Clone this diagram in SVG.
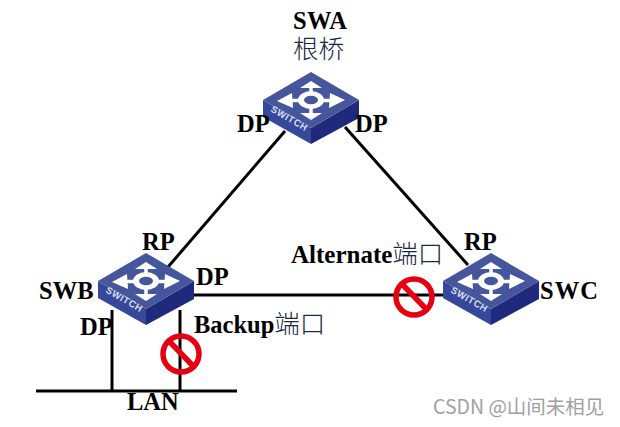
<svg xmlns="http://www.w3.org/2000/svg" width="620" height="427" viewBox="0 0 620 427">
<style>
.l{font:bold 24.5px "Liberation Serif","Noto Sans CJK SC",serif;fill:#000}
.c{font:300 25.5px "Noto Sans CJK SC",serif;fill:#1a2a44}
.w{fill:none;stroke:#000;stroke-width:3}
.sw{font:bold 9.5px "Liberation Sans",sans-serif;fill:#d5dcf0;letter-spacing:.6px}
.ban{fill:none;stroke:#e60012;stroke-width:5.5}
.sh{fill:none;stroke:#fff;stroke-width:3.5}
</style>
<defs>
<symbol id="switch" overflow="visible">
<path d="M0 28L48 56V72L0 45Z" fill="#36489a"/>
<path d="M96 28L48 56V72L96 46Z" fill="#1f2a7d"/>
<path d="M0 28L48 0L96 28L48 56Z" fill="#45569c"/>
<g fill="#fff">
<path d="M14 29L29 21L30 36Z"/>
<path d="M82 28L67 21L66 36Z"/>
<path d="M48 9L59 16H37Z"/>
<path d="M48 48L59 41H37Z"/>
<ellipse cx="48" cy="28" rx="13" ry="9"/>
</g>
<path class="sh" d="M25 28.5H71M48 14V43"/>
<ellipse cx="48" cy="28" rx="7" ry="4.2" fill="#45569c"/>
<text class="sw" transform="translate(7 39) rotate(30)">SWITCH</text>
</symbol>
</defs>
<g id="connectors" class="w">
<path d="M285 131L168 267"/>
<path d="M345 127L468 265"/>
<path d="M194 295H443"/>
<path d="M112 310V391"/>
<path d="M180 310V391"/>
<path d="M36 391H237"/>
</g>
<g id="swa"><use href="#switch" x="263" y="72"/>
<text class="l" x="293" y="29" textLength="54">SWA</text><text class="c" x="293" y="58">根桥</text></g>
<g id="swb"><use href="#switch" x="98" y="253"/>
<text class="l" x="39" y="299">SWB</text></g>
<g id="swc"><use href="#switch" x="443" y="253"/>
<text class="l" x="540" y="299" textLength="58">SWC</text></g>
<g id="labels">
<text class="l" x="237" y="132">DP</text>
<text class="l" x="355" y="132">DP</text>
<text class="l" x="142" y="250">RP</text>
<text class="l" x="464" y="250">RP</text>
<text class="l" x="196" y="285">DP</text>
<text class="l" x="80" y="335">DP</text>
<text class="l" x="291" y="263" style="font-size:25px">Alternate<tspan class="c">端口</tspan></text>
<text class="l" x="194" y="333">Backup<tspan class="c">端口</tspan></text>
<text class="l" x="127" y="410">LAN</text>
</g>
<g id="block-alternate"><circle class="ban" cx="414" cy="297" r="18"/><path class="ban" d="M402 284L427 310"/></g>
<g id="block-backup"><circle class="ban" cx="181" cy="354" r="18"/><path class="ban" d="M169 341L194 367"/></g>
<text x="433" y="414" font-family="Noto Sans CJK SC,sans-serif" font-size="19.5" fill="#a0a0a0">CSDN @山间未相见</text>
</svg>
